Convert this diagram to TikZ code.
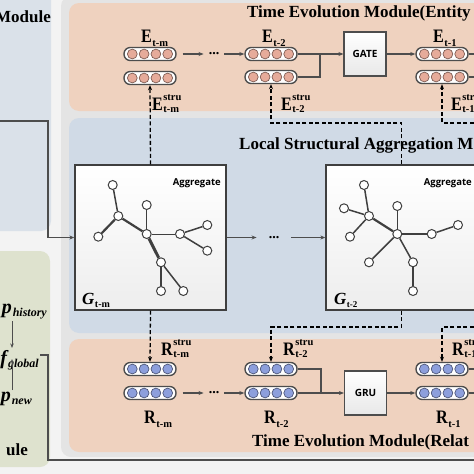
\documentclass[tikz,border=0pt]{standalone}
\usepackage{fontspec}
\setmainfont{Liberation Serif}
\newfontfamily\osans{Open Sans}
\usetikzlibrary{arrows.meta,calc}
\definecolor{bgc}{HTML}{F3F3F3}
\definecolor{grayp}{HTML}{E4E4E4}
\definecolor{ltopc}{HTML}{DAE1E9}
\definecolor{greenc}{HTML}{DEE2CE}
\definecolor{orc}{HTML}{EFD2BF}
\definecolor{bluep}{HTML}{D0DAE6}
\definecolor{pinkc}{HTML}{E6AB9A}
\definecolor{bluec}{HTML}{8D9FDC}
\definecolor{lnc}{HTML}{4D4D4D}
\definecolor{gd}{HTML}{3F3F3F}
\newcommand\subsz{\fontsize{10.5}{10.5}\selectfont\bfseries}
\newcommand\BigL[1]{\scalebox{0.85}[1]{\textbf{#1}}}
\newcommand\LabSB[2]{\BigL{#1}\kern0.3pt\raisebox{-4.5pt}{\subsz #2}}
\newcommand\LabSS[3]{\BigL{#1}\kern0.3pt\rlap{\raisebox{9.5pt}{\subsz #2}}\raisebox{-2.5pt}{\subsz #3}}
\newcommand\VecRow[4]{%
  \node[vecbox] (#1) at (#2,#3) {};
  \foreach \dx in {-17.7,-5.9,5.9,17.7}
    \filldraw[fill=#4, draw=#4!55!black, line width=0.7pt] ($(#1.center)+(\dx,0)$) circle[radius=4.9pt];
}
\begin{document}
\begin{tikzpicture}[x=1pt,y=-1pt,
  ln/.style={draw=lnc, line width=1.2pt},
  arr/.style={ln, -{Stealth[length=5pt,width=4pt]}},
  thinarr/.style={draw=lnc, line width=0.8pt, -{Stealth[length=4.5pt,width=3.5pt]}},
  dsh/.style={draw=black, line width=1.3pt, dash pattern=on 4pt off 2.5pt},
  darr/.style={dsh, -{Stealth[length=5pt,width=4pt]}},
  vecbox/.style={draw=lnc, line width=1.4pt, fill=white, rounded corners=6.3pt, minimum width=52pt, minimum height=13pt, inner sep=0pt},
  gbox/.style={draw=gd, line width=1.3pt, top color=white, bottom color=gray!14, minimum width=151pt, minimum height=145pt, inner sep=0pt},
  opbox/.style={draw=lnc, line width=1.2pt, top color=white, bottom color=gray!18, minimum width=42pt, minimum height=44pt, inner sep=0pt, font=\osans\bfseries\fontsize{10}{10}\selectfont},
  gnode/.style={circle, draw=gd, fill=white, line width=1pt, minimum size=9pt, inner sep=0pt},
  ge/.style={draw=gd, line width=1.5pt},
  gthin/.style={draw=gd, line width=1pt},
  gthick/.style={draw=gd, line width=2.2pt},
  gvthick/.style={draw=gd, line width=3pt},
  title/.style={font=\fontsize{17}{17}\selectfont\bfseries, inner sep=0pt, anchor=base west},
  lab/.style={font=\fontsize{19}{19}\selectfont, inner sep=0pt, anchor=base west},
  agg/.style={font=\osans\bfseries\fontsize{9.5}{9.5}\selectfont, inner sep=0pt, anchor=base east},
  dots/.style={font=\fontsize{14}{14}\selectfont\bfseries, inner ysep=1pt},
  ptxt/.style={inner sep=0pt, anchor=base east}
]
\useasboundingbox (0,0) rectangle (474,474);
\clip (0,0) rectangle (474,474);
% backgrounds
\fill[bgc] (-10,-10) rectangle (490,490);
\fill[ltopc, rounded corners=10pt] (-30,-30) rectangle (51,231);
\fill[greenc, rounded corners=10pt] (-30,251) rectangle (50,467);
\fill[grayp, rounded corners=10pt] (61,-4) rectangle (520,457);
\fill[orc, rounded corners=10pt] (69,3) rectangle (520,111);
\fill[bluep, rounded corners=10pt] (69,118) rectangle (520,333);
\fill[orc, rounded corners=10pt] (69,339) rectangle (520,452);

% titles
\node[title] (tE) at (247,17) {Time Evolution Module(Entity};
\node[title] (tL) at (239,149) {Local Structural Aggregation M};
\node[title] (tR) at (252,446) {Time Evolution Module(Relat};
\node[title, anchor=base east] (tM) at (51,22) {Module};
\node[title, anchor=base east] (tU) at (28,455) {ule};

% left panel texts
\node[ptxt] (ph) at (47,313) {{\fontsize{20}{20}\selectfont\bfseries\itshape p}\kern1pt\raisebox{-3pt}{\fontsize{12}{12}\selectfont\bfseries\itshape history}};
\node[ptxt] (fg) at (39,364) {{\fontsize{20}{20}\selectfont\bfseries\itshape f}\kern1pt\raisebox{-3pt}{\fontsize{12}{12}\selectfont\bfseries\itshape global}};
\node[ptxt] (pn) at (32,401) {{\fontsize{20}{20}\selectfont\bfseries\itshape p}\kern1pt\raisebox{-3pt}{\fontsize{12}{12}\selectfont\bfseries\itshape new}};
\coordinate (ph1) at (12,321); \coordinate (ph2) at (12,348);
\coordinate (pn1) at (12,390); \coordinate (pn2) at (12,359);
\draw[thinarr] (ph1) -- (ph2);
\draw[thinarr] (pn1) -- (pn2);

% graph boxes
\node[gbox] (Gm) at (150.5,237.5) {};
\node[gbox] (G2) at (401.5,237.5) {};
\node[agg] (aggm) at (221,185) {Aggregate};
\node[agg] (agg2) at (472,185) {Aggregate};
\node[lab, font=\fontsize{17}{17}\selectfont] (Gml) at (82,304) {\textbf{\textit{G}}\kern0.5pt\raisebox{-3pt}{\fontsize{10}{10}\selectfont\bfseries t-m}};
\node[lab, font=\fontsize{17}{17}\selectfont] (G2l) at (334,304) {\textbf{\textit{G}}\kern0.5pt\raisebox{-3pt}{\fontsize{9}{9}\selectfont\bfseries t-2}};

% graph G_{t-m}
\node[gnode] (n1) at (112.7,185) {};
\node[gnode] (n2) at (118.3,216) {};
\node[gnode] (n3) at (98.3,236.7) {};
\node[gnode] (n4) at (146.7,205) {};
\node[gnode] (n5) at (146.7,234) {};
\node[gnode] (n6) at (180,234) {};
\node[gnode] (n7) at (207.3,225) {};
\node[gnode] (n8) at (207.3,250.7) {};
\node[gnode] (n9) at (161,262.3) {};
\node[gnode] (n10) at (161,291) {};
\node[gnode] (n11) at (183.3,291) {};
\draw[ge] (n1) -- (n2);
\draw[gthick] (n2) -- (n3);
\draw[gthick] (n2) -- (n5);
\draw[ge] (n4) -- (n5);
\draw[gthin] (n5) -- (n6);
\draw[ge] (n6) -- (n7);
\draw[ge] (n6) -- (n8);
\draw[gvthick] (n5) -- (n9);
\draw[gthick] (n9) -- (n10);
\draw[ge] (n9) -- (n11);

% graph G_{t-2}
\node[gnode] (a1) at (364,185) {};
\node[gnode] (a2) at (344,208.3) {};
\node[gnode] (a3) at (369,216) {};
\node[gnode] (a4) at (350,236.7) {};
\node[gnode] (a5) at (397.3,206) {};
\node[gnode] (a6) at (397.3,234) {};
\node[gnode] (a7) at (431.7,234) {};
\node[gnode] (a8) at (458,225) {};
\node[gnode] (a9) at (369,262.3) {};
\node[gnode] (a10) at (413,262.3) {};
\node[gnode] (a11) at (413,291) {};
\draw[ge] (a1) -- (a3);
\draw[ge] (a2) -- (a3);
\draw[ge] (a4) -- (a3);
\draw[gthick] (a3) -- (a6);
\draw[gthin] (a5) -- (a6);
\draw[ge] (a6) -- (a7);
\draw[ge] (a7) -- (a8);
\draw[ge] (a6) -- (a9);
\draw[ge] (a6) -- (a10);
\draw[ge] (a10) -- (a11);

% dots between graphs
\node[dots, inner xsep=12pt] (dG) at (274,237.5) {...};
\draw[arr] (Gm.east) -- (dG.west);
\draw[arr] (dG.east) -- (G2.west);

% operator boxes
\node[opbox] (gate) at (365,54) {GATE};
\node[opbox] (gru) at (365.5,393) {GRU};

% vectors
\VecRow{Etm}{150}{54}{pinkc}
\VecRow{Stm}{150}{78}{pinkc}
\VecRow{Et2}{271}{54}{pinkc}
\VecRow{St2}{271}{77}{pinkc}
\VecRow{Et1}{442}{54}{pinkc}
\VecRow{St1}{442}{77}{pinkc}
\VecRow{RStm}{150}{369}{bluec}
\VecRow{Rtm}{150}{393}{bluec}
\VecRow{RSt2}{271}{369}{bluec}
\VecRow{Rt2}{271}{393}{bluec}
\VecRow{RSt1}{442}{369}{bluec}
\VecRow{Rt1}{442}{393}{bluec}

% vector labels
\node[lab] (lEtm) at (141,42) {\LabSB{E}{t-m}};
\node[lab] (lStm) at (152,110) {\LabSS{E}{stru}{t-m}};
\node[lab] (lEt2) at (262,42) {\LabSB{E}{t-2}};
\node[lab] (lSt2) at (281,110) {\LabSS{E}{stru}{t-2}};
\node[lab] (lEt1) at (433,42) {\LabSB{E}{t-1}};
\node[lab] (lSt1) at (451,110) {\LabSS{E}{stru}{t-1}};
\node[lab] (lRStm) at (161,355) {\LabSS{R}{stru}{t-m}};
\node[lab] (lRtm) at (144,423) {\LabSB{R}{t-m}};
\node[lab] (lRSt2) at (283,355) {\LabSS{R}{stru}{t-2}};
\node[lab] (lRt2) at (264,423) {\LabSB{R}{t-2}};
\node[lab] (lRSt1) at (452,355) {\LabSS{R}{stru}{t-1}};
\node[lab] (lRt1) at (436,423) {\LabSB{R}{t-1}};

% entity row connectors
\node[dots, inner xsep=5pt] (dE) at (214,54) {...};
\draw[arr, shorten <=6pt] (Etm.east) -- (dE.west);
\draw[arr] (dE.east) -- (Et2.west);
\coordinate (mE) at (320,54);
\draw[ln] (Et2.east) -- (mE);
\draw[ln] (St2.east) -| (mE);
\draw[arr] (mE) -- (gate.west);
\draw[arr] (gate.east) -- (Et1.west);
\coordinate (eR1) at (480,54); \coordinate (eR2) at (480,77);
\draw[ln] (Et1.east) -- (eR1);
\draw[ln] (St1.east) -- (eR2);

% relation row connectors
\node[dots, inner xsep=5pt] (dR) at (214,393) {...};
\draw[arr, shorten <=6pt] (Rtm.east) -- (dR.west);
\draw[arr] (dR.east) -- (Rt2.west);
\coordinate (mR) at (321,393);
\draw[ln] (RSt2.east) -| (mR);
\draw[ln] (Rt2.east) -- (mR);
\draw[arr] (mR) -- (gru.west);
\draw[arr] (gru.east) -- (Rt1.west);
\coordinate (rR1) at (480,369); \coordinate (rR2) at (480,393);
\draw[ln] (RSt1.east) -- (rR1);
\draw[ln] (Rt1.east) -- (rR2);

% dashed connectors
\draw[darr] (Gm.north) -- (Stm.south);
\draw[darr] (Gm.south) -- (RStm.north);
\coordinate (dT2b) at (271,123);
\draw[darr] (G2.north) |- (dT2b) -- (St2.south);
\coordinate (dT1) at (480,123); \coordinate (dT1b) at (442,123);
\draw[darr] (dT1) -- (dT1b) -- (St1.south);
\coordinate (dB2) at (271,327);
\draw[darr] (G2.south) |- (dB2) -- (RSt2.north);
\coordinate (dB1) at (480,327); \coordinate (dB1b) at (442,327);
\draw[darr] (dB1) -- (dB1b) -- (RSt1.north);

% outer connectors
\coordinate (lA) at (-2,121); \coordinate (lB) at (48,121);
\draw[arr] (lA) -- (lB) |- (Gm.west);
\coordinate (fA) at (40,355); \coordinate (fC) at (48,460); \coordinate (fB) at (480,460);
\draw[ln] (fA) -| (fC) -- (fB);
\end{tikzpicture}
\end{document}
